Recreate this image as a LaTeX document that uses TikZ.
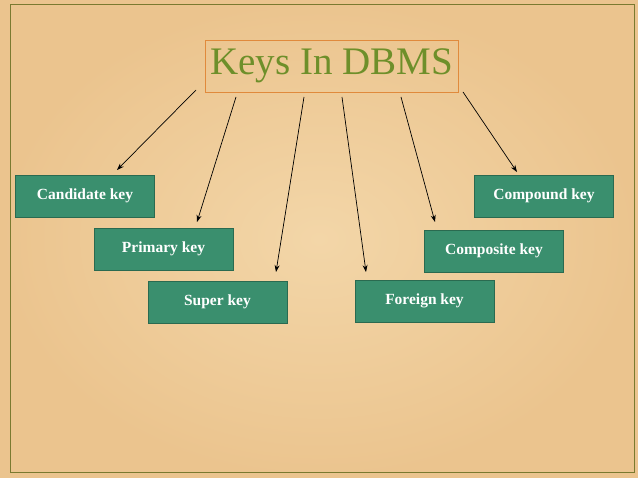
\documentclass[tikz,border=0pt]{standalone}
\usepackage{fontspec}
\setmainfont{Liberation Serif}
\usetikzlibrary{arrows.meta}
\definecolor{woodA}{HTML}{EBC48E}
\definecolor{woodB}{HTML}{F3D6A8}
\definecolor{boxfill}{HTML}{3A8F6E}
\definecolor{boxline}{HTML}{2A6A50}
\definecolor{olive}{HTML}{6E8F2A}
\definecolor{frame}{HTML}{7A7A30}
\definecolor{titleline}{HTML}{E08A3C}
\tikzset{
  keybox/.style={draw=boxline, fill=boxfill, line width=0.8pt, minimum width=139pt, minimum height=42pt, inner sep=0pt, text=white, font=\fontsize{15.5}{18}\selectfont\bfseries},
  conn/.style={-{Stealth[length=7pt,width=5pt]}, line width=0.7pt, black}
}
\begin{document}
\begin{tikzpicture}[x=1pt,y=-1pt]
\shade[inner color=woodB, outer color=woodA] (0,0) rectangle (638,478);
\useasboundingbox (0,0) rectangle (638,478);
\draw[frame, line width=0.8pt] (10,4) rectangle (634,472);
\node[draw=titleline, line width=0.8pt, minimum width=253pt, minimum height=52pt, inner sep=0pt, text=olive, font=\fontsize{39}{44}\selectfont] (title) at (331.5,66) {Keys In DBMS};
\node[keybox] (cand) at (85,196) {Candidate key};
\node[keybox] (comp) at (544,196) {Compound key};
\node[keybox] (prim) at (163.5,249) {Primary key};
\node[keybox] (compos) at (494,251) {Composite key};
\node[keybox] (super) at (217.5,302) {Super key};
\node[keybox] (foreign) at (424.5,301) {Foreign key};
\coordinate (s1) at (196,90);
\coordinate (s2) at (236,97);
\coordinate (s3) at (304,97);
\coordinate (s4) at (342,97);
\coordinate (s5) at (401,97);
\coordinate (s6) at (463,92);
\coordinate (e1) at (117,170);
\coordinate (e2) at (197,222);
\coordinate (e3) at (276,272);
\coordinate (e4) at (366,272);
\coordinate (e5) at (435,222);
\coordinate (e6) at (517,172);
\foreach \i in {1,...,6}{\draw[conn] (s\i) -- (e\i);}
\end{tikzpicture}
\end{document}
